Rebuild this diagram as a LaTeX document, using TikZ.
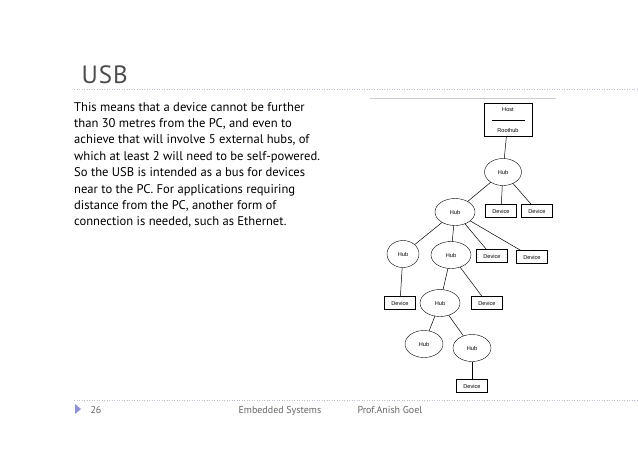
\documentclass[tikz,border=0pt]{standalone}
\usepackage{fontspec}
\setmainfont{PT Sans}
\newfontfamily\arialf{Liberation Sans}
\usetikzlibrary{shapes.geometric}
\begin{document}
\begin{tikzpicture}[x=1pt,y=-1pt,
  hub/.style={draw,ellipse,minimum width=38pt,minimum height=27pt,inner sep=0pt,font=\arialf\fontsize{5.6}{6}\selectfont},
  dev/.style={draw,rectangle,minimum width=31pt,minimum height=13pt,inner sep=0pt,font=\arialf\fontsize{5.6}{6}\selectfont},
  dots/.style={draw=blue!15!gray!45,dash pattern=on 1pt off 1.5pt,line width=0.6pt},
  ln/.style={line width=0.5pt}]
\useasboundingbox (0,0) rectangle (638,451);
\node[anchor=base west,text=black!70,font=\fontsize{25}{25}\selectfont] (t) at (78,83) {U\kern1pt S\kern1pt B};
\draw[dots] (74,89) -- (638,89);
\draw[dots] (74,400) -- (638,400);
\draw[gray!40,line width=0.6pt] (370,98) -- (556,98);
\node[anchor=north west,align=left,inner sep=0pt,font=\fontsize{12.6}{16.4}\selectfont] (body) at (74,102)
{This means that a device cannot be further\\than 30 metres from the PC, and even to\\achieve that will involve 5 external hubs, of\\which at least 2 will need to be self-powered.\\So the USB is intended as a bus for devices\\near to the PC. For applications requiring\\distance from the PC, another form of\\connection is needed, such as Ethernet.};
\fill[gray!55!blue!60] (75,404) -- (81,409) -- (75,414) -- cycle;
\node[anchor=base west,text=black!60,font=\fontsize{10}{12}\selectfont] (pg) at (87,413) {26};
\node[anchor=base west,text=black!60,font=\fontsize{10}{12}\selectfont] (es) at (235,413) {Embedded Systems};
\node[anchor=base west,text=black!60,font=\fontsize{10}{12}\selectfont] (pa) at (354,413) {Prof.Anish Goel};
% diagram
\node[draw,minimum width=48pt,minimum height=33pt,inner sep=0pt] (host) at (508,119.5) {};
\node[font=\arialf\fontsize{5.6}{6}\selectfont] (hl) at (508,110) {Host};
\node[font=\arialf\fontsize{5.6}{6}\selectfont] (rl) at (508,130) {Roothub};
\draw[ln] (492,120) -- (525,120);
\node[hub,minimum width=37pt] (h1) at (503,172) {Hub};
\node[dev] (d1) at (501,211) {Device};
\node[dev] (d2) at (537,211) {Device};
\node[hub,minimum width=40pt] (h2) at (455,212) {Hub};
\node[hub,minimum width=32pt] (h3) at (403,254) {Hub};
\node[hub,minimum width=40pt] (h4) at (451,255) {Hub};
\node[dev] (d3) at (492,256) {Device};
\node[dev] (d4) at (532,257) {Device};
\node[dev] (d5) at (400,303) {Device};
\node[hub,minimum width=40pt] (h5) at (440,303) {Hub};
\node[dev] (d6) at (487,303) {Device};
\node[hub] (h6) at (424,344) {Hub};
\node[hub] (h7) at (472,348) {Hub};
\node[dev] (d7) at (472,386) {Device};
\draw[ln] (host) -- (h1);
\draw[ln] (h1) -- (h2);
\draw[ln] (h1) -- (d1);
\draw[ln] (h1) -- (d2);
\draw[ln] (h2) -- (h3);
\draw[ln] (h2) -- (h4);
\draw[ln] (h2) -- (d3);
\draw[ln] (h2) -- (d4);
\draw[ln] (h3) -- (d5);
\draw[ln] (h4) -- (h5);
\draw[ln] (h4) -- (d6);
\draw[ln] (h5) -- (h6);
\draw[ln] (h5) -- (h7);
\draw[ln] (h7) -- (d7);
\end{tikzpicture}
\end{document}
